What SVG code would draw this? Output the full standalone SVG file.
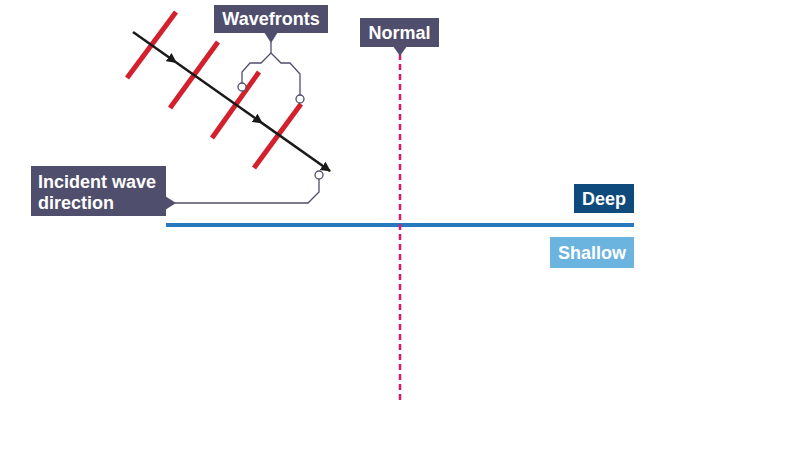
<svg xmlns="http://www.w3.org/2000/svg" width="800" height="450" viewBox="0 0 800 450">
<defs>
<style>
.lbl{fill:#4f4e6c}
.t{font-family:"Liberation Sans",Arial,sans-serif;font-weight:bold;font-size:18px;fill:#fff}
.wf{stroke:#d4202c;stroke-width:5;stroke-linecap:butt}
.lead{fill:none;stroke:#4f4e6c;stroke-width:1.3}
.dot{fill:#fff;stroke:#4f4e6c;stroke-width:1.3}
</style>
<marker id="ah" viewBox="0 0 10 10" refX="9" refY="5" markerWidth="10" markerHeight="10" markerUnits="userSpaceOnUse" orient="auto">
<path d="M0,0 L10,5 L0,10 z" fill="#1a1a1a"/>
</marker>
</defs>
<rect width="800" height="450" fill="#fff"/>
<g id="boundary">
<line x1="166" y1="225" x2="634" y2="225" stroke="#2779bf" stroke-width="4"/>
</g>
<g id="normal-line">
<line x1="400" y1="54" x2="400" y2="403" stroke="#e0166f" stroke-width="2.5" stroke-dasharray="6,4"/>
</g>
<g id="wavefronts">
<line class="wf" x1="127" y1="78" x2="176" y2="12"/>
<line class="wf" x1="170" y1="108" x2="218" y2="42"/>
<line class="wf" x1="212" y1="138" x2="259" y2="72"/>
<line class="wf" x1="254" y1="168" x2="301" y2="104"/>
</g>
<g id="connectors">
<line x1="133" y1="32" x2="330" y2="171" stroke="#1a1a1a" stroke-width="2.5" marker-end="url(#ah)"/>
<path d="M133,32 L176,62.3" stroke="none" fill="none" marker-end="url(#ah)"/>
<path d="M133,32 L262,123" stroke="none" fill="none" marker-end="url(#ah)"/>
<path class="lead" d="M271,42 L271,53 L261,63 L250,63 L242,72 L242,83"/>
<path class="lead" d="M271,53 L281,63 L290,63 L300,74 L300,95"/>
<path class="lead" d="M175,203 L308,203 L319,192 L319,179"/>
<circle class="dot" cx="242" cy="87" r="4"/>
<circle class="dot" cx="300" cy="99" r="4"/>
<circle class="dot" cx="319" cy="175" r="4"/>
</g>
<g id="label-wavefronts">
<rect class="lbl" x="214" y="5" width="114" height="28"/>
<path class="lbl" d="M264,32 L278,32 L271,43 z"/>
<text class="t" x="271" y="25" text-anchor="middle">Wavefronts</text>
</g>
<g id="label-normal">
<rect class="lbl" x="360" y="18" width="79" height="29"/>
<path class="lbl" d="M393,46 L407,46 L400,56 z"/>
<text class="t" x="399.5" y="39" text-anchor="middle">Normal</text>
</g>
<g id="label-incident">
<rect class="lbl" x="31" y="166" width="135" height="50"/>
<path class="lbl" d="M165,196 L176,203 L165,210 z"/>
<text class="t" x="38" y="188">Incident wave</text>
<text class="t" x="38" y="209">direction</text>
</g>
<g id="label-deep">
<rect x="574" y="184" width="60" height="29" fill="#0e4a7b"/>
<text class="t" x="604" y="205" text-anchor="middle">Deep</text>
</g>
<g id="label-shallow">
<rect x="550" y="237" width="84" height="31" fill="#6bb4df"/>
<text class="t" x="592" y="259" text-anchor="middle">Shallow</text>
</g>
</svg>
